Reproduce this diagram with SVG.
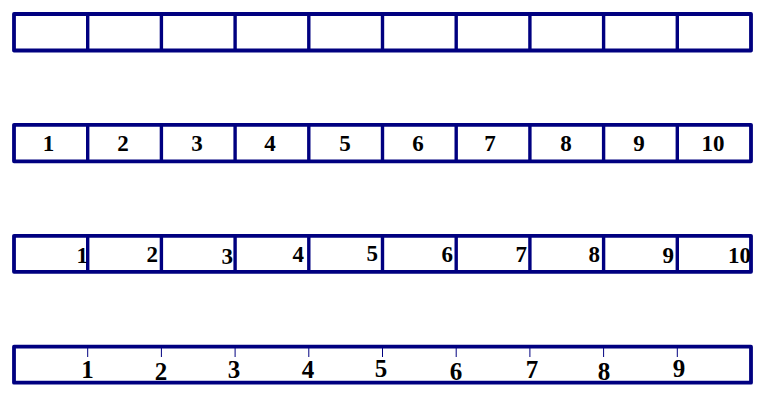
<svg xmlns="http://www.w3.org/2000/svg" width="768" height="400" viewBox="0 0 768 400">
<style>
.box{fill:#fff;stroke:#000080;stroke-width:3.8;stroke-linejoin:round}
.div{stroke:#000080;stroke-width:3.4}
.tick{stroke:#000080;stroke-width:1}
.n{font-family:"Liberation Serif","Times New Roman",serif;font-weight:bold;font-size:23px;fill:#000}
.m{text-anchor:middle}
.e{text-anchor:end}
.b{font-size:25px}
</style>
<rect width="768" height="400" fill="#fff"/>
<g id="row1">
<rect class="box" x="14" y="14" width="737" height="36.5"/>
<g class="div">
<line x1="87.7" y1="14" x2="87.7" y2="50.5"/><line x1="161.4" y1="14" x2="161.4" y2="50.5"/><line x1="235.1" y1="14" x2="235.1" y2="50.5"/><line x1="308.8" y1="14" x2="308.8" y2="50.5"/><line x1="382.5" y1="14" x2="382.5" y2="50.5"/><line x1="456.2" y1="14" x2="456.2" y2="50.5"/><line x1="529.9" y1="14" x2="529.9" y2="50.5"/><line x1="603.6" y1="14" x2="603.6" y2="50.5"/><line x1="677.3" y1="14" x2="677.3" y2="50.5"/>
</g>
</g>
<g id="row2">
<rect class="box" x="14" y="124.8" width="737" height="36.5"/>
<g class="div">
<line x1="87.7" y1="124.8" x2="87.7" y2="161.3"/><line x1="161.4" y1="124.8" x2="161.4" y2="161.3"/><line x1="235.1" y1="124.8" x2="235.1" y2="161.3"/><line x1="308.8" y1="124.8" x2="308.8" y2="161.3"/><line x1="382.5" y1="124.8" x2="382.5" y2="161.3"/><line x1="456.2" y1="124.8" x2="456.2" y2="161.3"/><line x1="529.9" y1="124.8" x2="529.9" y2="161.3"/><line x1="603.6" y1="124.8" x2="603.6" y2="161.3"/><line x1="677.3" y1="124.8" x2="677.3" y2="161.3"/>
</g>
<g class="n m">
<text x="48.5" y="150.5">1</text><text x="123" y="150.5">2</text><text x="197" y="150.5">3</text><text x="270" y="150.5">4</text><text x="345" y="150.5">5</text><text x="418" y="150.5">6</text><text x="490" y="150.5">7</text><text x="566" y="150.5">8</text><text x="639" y="150.5">9</text><text x="713" y="150.5">10</text>
</g>
</g>
<g id="row3">
<rect class="box" x="14" y="235.8" width="737" height="36"/>
<g class="div">
<line x1="87.7" y1="235.8" x2="87.7" y2="271.8"/><line x1="161.4" y1="235.8" x2="161.4" y2="271.8"/><line x1="235.1" y1="235.8" x2="235.1" y2="271.8"/><line x1="308.8" y1="235.8" x2="308.8" y2="271.8"/><line x1="382.5" y1="235.8" x2="382.5" y2="271.8"/><line x1="456.2" y1="235.8" x2="456.2" y2="271.8"/><line x1="529.9" y1="235.8" x2="529.9" y2="271.8"/><line x1="603.6" y1="235.8" x2="603.6" y2="271.8"/><line x1="677.3" y1="235.8" x2="677.3" y2="271.8"/>
</g>
<g class="n e">
<text x="88" y="263">1</text><text x="158" y="262">2</text><text x="233" y="264">3</text><text x="304" y="262">4</text><text x="378" y="261">5</text><text x="453" y="262">6</text><text x="527" y="262">7</text><text x="600" y="262">8</text><text x="674" y="263">9</text><text x="751" y="263">10</text>
</g>
</g>
<g id="row4">
<rect class="box" x="14" y="346.7" width="737" height="36"/>
<g class="tick">
<line x1="87.7" y1="347" x2="87.7" y2="357"/><line x1="161.4" y1="347" x2="161.4" y2="357"/><line x1="235.1" y1="347" x2="235.1" y2="357"/><line x1="308.8" y1="347" x2="308.8" y2="357"/><line x1="382.5" y1="347" x2="382.5" y2="357"/><line x1="456.2" y1="347" x2="456.2" y2="357"/><line x1="529.9" y1="347" x2="529.9" y2="357"/><line x1="603.6" y1="347" x2="603.6" y2="357"/><line x1="677.3" y1="347" x2="677.3" y2="357"/>
</g>
<g class="n m b">
<text x="87.5" y="377.5">1</text><text x="161" y="379.5">2</text><text x="234" y="377.5">3</text><text x="308" y="377.5">4</text><text x="381" y="376.5">5</text><text x="456" y="379.5">6</text><text x="532" y="377.5">7</text><text x="604" y="379.5">8</text><text x="679" y="376.5">9</text>
</g>
</g>
</svg>
